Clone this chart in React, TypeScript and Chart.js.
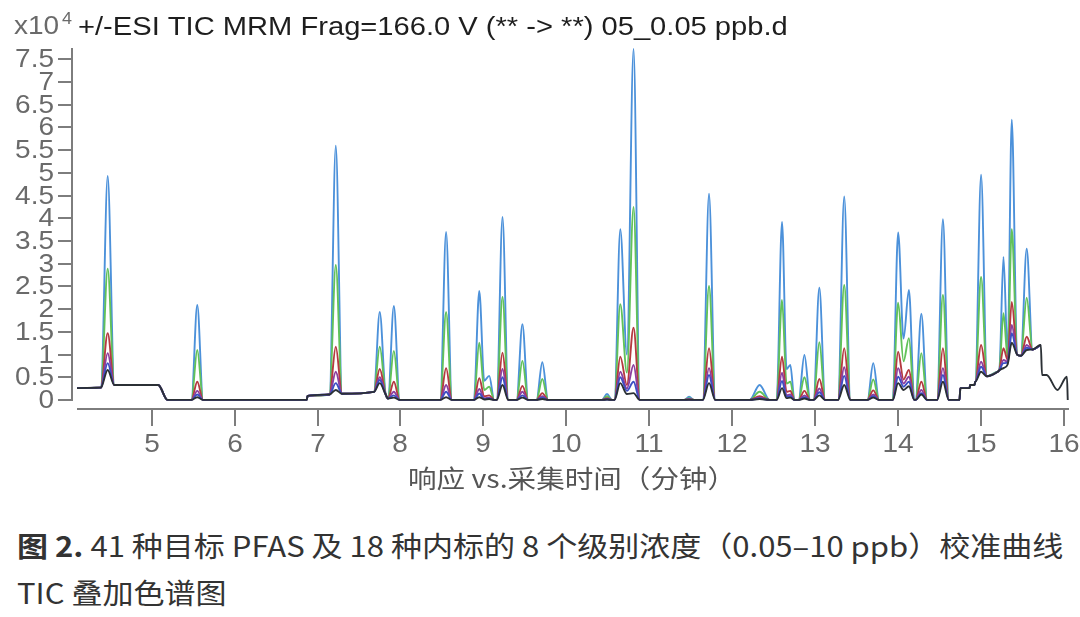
import React, { useEffect, useRef } from "react";
import { Chart, registerables } from "chart.js";

Chart.register(...registerables);

// Retention times (min) of the resolved peaks
const RT = [4.47, 5.55, 7.22, 7.75, 7.92, 8.55, 8.95, 9.07, 9.23, 9.47, 9.71, 10.49, 10.65, 10.81, 11.48, 11.72, 12.33, 12.6, 12.7, 12.87, 13.05, 13.35, 13.7, 14.0, 14.13, 14.28, 14.54, 15.0, 15.27, 15.37, 15.55];
// Half base width of each peak (min)
const HALF_W = [0.08, 0.07, 0.075, 0.07, 0.07, 0.07, 0.065, 0.06, 0.07, 0.07, 0.07, 0.06, 0.07, 0.075, 0.06, 0.075, 0.12, 0.065, 0.05, 0.07, 0.07, 0.075, 0.07, 0.065, 0.065, 0.07, 0.07, 0.07, 0.05, 0.065, 0.07];

// Apex responses (x10^4 counts) per calibration level
const L10_APEX = [4.93, 2.09, 5.6, 1.94, 2.07, 3.7, 2.4, 0.53, 4.03, 1.67, 0.83, 0.13, 3.76, 7.73, 0.07, 4.54, 0.33, 3.92, 0.77, 0.99, 2.47, 4.48, 0.81, 3.69, 2.42, 1.9, 3.98, 4.96, 3.15, 6.17, 3.33];
const L5_APEX = [2.89, 1.1, 2.97, 1.17, 1.08, 1.94, 1.26, 0.29, 2.27, 0.86, 0.46, 0.08, 2.11, 4.25, 0.04, 2.51, 0.18, 2.2, 0.4, 0.5, 1.27, 2.53, 0.45, 2.14, 1.36, 1.03, 2.31, 2.71, 1.91, 3.76, 2.25];
const L2_APEX = [1.47, 0.4, 1.17, 0.68, 0.4, 0.7, 0.48, 0.1, 1.04, 0.31, 0.15, 0.04, 0.95, 1.59, 0.02, 1.14, 0.08, 0.95, 0.2, 0.2, 0.46, 1.14, 0.21, 1.06, 0.66, 0.4, 1.14, 1.21, 1.14, 2.16, 1.39];
const L1_APEX = [1.03, 0.2, 0.62, 0.5, 0.18, 0.33, 0.24, 0.05, 0.68, 0.18, 0.08, 0.02, 0.62, 0.77, 0.01, 0.7, 0.05, 0.6, 0.12, 0.1, 0.25, 0.72, 0.12, 0.7, 0.51, 0.22, 0.7, 0.84, 0.88, 1.65, 1.21];
const L05_APEX = [0.81, 0.12, 0.37, 0.44, 0.1, 0.18, 0.14, 0.03, 0.5, 0.1, 0.05, 0.01, 0.5, 0.4, 0.01, 0.55, 0.03, 0.42, 0.08, 0.06, 0.17, 0.53, 0.08, 0.51, 0.4, 0.15, 0.55, 0.73, 0.81, 1.47, 1.15];
const L005_APEX = [0.66, 0.06, 0.22, 0.37, 0.05, 0.06, 0.06, 0.02, 0.33, 0.05, 0.02, 0.01, 0.37, 0.15, 0.0, 0.37, 0.02, 0.26, 0.05, 0.03, 0.1, 0.33, 0.05, 0.37, 0.3, 0.12, 0.4, 0.62, 0.7, 1.26, 1.1];

// Valleys between partly co-eluting peaks
const VALLEY_RT = [9.01, 10.73, 12.655, 14.065, 15.32];
const L10_VALLEY = [0.42, 1.0, 0.68, 1.35, 1.0];
const L5_VALLEY = [0.22, 0.6, 0.36, 0.85, 0.93];
const L2_VALLEY = [0.08, 0.33, 0.18, 0.45, 0.88];
const L1_VALLEY = [0.04, 0.25, 0.1, 0.36, 0.84];
const L05_VALLEY = [0.02, 0.2, 0.07, 0.29, 0.82];
const L005_VALLEY = [0.01, 0.13, 0.04, 0.22, 0.78];

// Baseline of the TIC between peaks
const BASE_T = [4.1, 4.38, 4.56, 5.08, 5.19, 6.87, 6.88, 7.72, 7.8, 7.86, 14.74, 14.75, 14.86, 14.87, 14.92, 14.93, 15.07, 15.2, 15.43, 15.5, 15.61, 15.72, 15.735, 15.79, 15.92, 16.035, 16.045];
const BASE_V = [0.26, 0.27, 0.33, 0.33, 0.0, 0.0, 0.09, 0.18, 0.19, 0.0, 0.0, 0.26, 0.26, 0.33, 0.33, 0.4, 0.52, 0.62, 1.0, 0.96, 1.1, 1.21, 0.55, 0.55, 0.22, 0.51, 0.0];

const X_TICKS = [5, 6, 7, 8, 9, 10, 11, 12, 13, 14, 15, 16];
const Y_TICKS = [0, 0.5, 1, 1.5, 2, 2.5, 3, 3.5, 4, 4.5, 5, 5.5, 6, 6.5, 7, 7.5];
const Y_TICK_LABELS = ["0", "0.5", "1", "1.5", "2", "2.5", "3", "3.5", "4", "4.5", "5", "5.5", "6", "6.5", "7", "7.5"];

const TITLE = "+/-ESI TIC MRM Frag=166.0 V (** -> **) 05_0.05 ppb.d";
const X_TITLE = "响应 vs.采集时间（分钟）";

const LEVELS = [
  { label: "0.05 ppb", apex: L005_APEX, valley: L005_VALLEY, color: "#2b3035", full: true },
  { label: "0.5 ppb", apex: L05_APEX, valley: L05_VALLEY, color: "#3c4fc4", full: false },
  { label: "1 ppb", apex: L1_APEX, valley: L1_VALLEY, color: "#8d3f9f", full: false },
  { label: "2 ppb", apex: L2_APEX, valley: L2_VALLEY, color: "#b53a40", full: false },
  { label: "5 ppb", apex: L5_APEX, valley: L5_VALLEY, color: "#62c25a", full: false },
  { label: "10 ppb", apex: L10_APEX, valley: L10_VALLEY, color: "#4c91da", full: false },
];

function baseAt(t: number): number {
  for (let i = 0; i < BASE_T.length - 1; i++) {
    if (t >= BASE_T[i] && t <= BASE_T[i + 1]) {
      const f = (t - BASE_T[i]) / (BASE_T[i + 1] - BASE_T[i]);
      return BASE_V[i] + f * (BASE_V[i + 1] - BASE_V[i]);
    }
  }
  return 0;
}

function buildTrace(apex: number[], valley: number[], full: boolean) {
  const pts: { x: number; y: number }[] = [];
  const end = full ? 99 : 15.72;
  // valley j sits between peaks pairL[j] and pairL[j]+1
  const pairL = VALLEY_RT.map((v) => RT.filter((r) => r < v).length - 1);
  const covered = (t: number) => {
    for (let i = 0; i < RT.length; i++) if (Math.abs(t - RT[i]) <= HALF_W[i]) return true;
    for (const l of pairL) if (t > RT[l] && t < RT[l + 1]) return true;
    return false;
  };
  BASE_T.forEach((t, i) => {
    if (t <= end && !covered(t)) pts.push({ x: t, y: BASE_V[i] });
  });
  RT.forEach((t, i) => {
    pts.push({ x: t, y: apex[i] });
    if (!pairL.includes(i - 1)) pts.push({ x: t - HALF_W[i], y: baseAt(t - HALF_W[i]) });
    if (!pairL.includes(i)) pts.push({ x: t + HALF_W[i], y: baseAt(t + HALF_W[i]) });
  });
  VALLEY_RT.forEach((t, j) => pts.push({ x: t, y: valley[j] }));
  pts.sort((a, b) => a.x - b.x);
  return pts;
}

const AXIS_COLOR = "#7d7d7d";
const LABEL_COLOR = "#6a6a6a";
const TEXT_STRETCH = 1.12;

function stretchedText(ctx: CanvasRenderingContext2D, text: string, x: number, y: number) {
  ctx.save();
  ctx.translate(x, y);
  ctx.scale(TEXT_STRETCH, 1);
  ctx.fillText(text, 0, 0);
  ctx.restore();
}

const axesPlugin = {
  id: "tic-axes",
  afterDraw(chart: any) {
    const { ctx, chartArea, scales } = chart;
    const xs = scales.x;
    const ys = scales.y;
    ctx.save();
    ctx.strokeStyle = AXIS_COLOR;
    ctx.lineWidth = 2;
    // y axis
    const yAxisX = chartArea.left - 5;
    ctx.beginPath();
    ctx.moveTo(yAxisX, chartArea.top);
    ctx.lineTo(yAxisX, ys.getPixelForValue(0) + 1);
    ctx.stroke();
    ctx.font = '25px "Liberation Sans", Arial, sans-serif';
    ctx.fillStyle = LABEL_COLOR;
    ctx.textAlign = "right";
    ctx.textBaseline = "middle";
    Y_TICKS.forEach((v, i) => {
      const py = Math.round(ys.getPixelForValue(v));
      ctx.beginPath();
      ctx.moveTo(yAxisX - 14, py);
      ctx.lineTo(yAxisX, py);
      ctx.stroke();
      stretchedText(ctx, Y_TICK_LABELS[i], yAxisX - 18, py + 1);
    });
    // x axis
    const xAxisY = chartArea.bottom;
    ctx.beginPath();
    ctx.moveTo(chartArea.left, xAxisY);
    ctx.lineTo(chartArea.right, xAxisY);
    ctx.stroke();
    ctx.textAlign = "center";
    ctx.textBaseline = "middle";
    X_TICKS.forEach((v) => {
      const px = Math.round(xs.getPixelForValue(v));
      ctx.beginPath();
      ctx.moveTo(px, xAxisY);
      ctx.lineTo(px, xAxisY + 17);
      ctx.stroke();
      stretchedText(ctx, String(v), px, xAxisY + 36);
    });
    ctx.font = '25.5px "Noto Sans CJK SC", sans-serif';
    ctx.fillStyle = "#555555";
    stretchedText(ctx, X_TITLE, 572, xAxisY + 69);
    // scale factor and trace title
    ctx.textAlign = "left";
    ctx.textBaseline = "alphabetic";
    ctx.fillStyle = LABEL_COLOR;
    ctx.font = '25px "Liberation Sans", Arial, sans-serif';
    stretchedText(ctx, "x10", 14, 34);
    ctx.font = '16px "Liberation Sans", Arial, sans-serif';
    stretchedText(ctx, "4", 62, 24);
    ctx.fillStyle = "#1e1e1e";
    ctx.font = '26px "Liberation Sans", Arial, sans-serif';
    stretchedText(ctx, TITLE, 78, 35);
    ctx.restore();
  },
};

export default function App() {
  const ref = useRef<HTMLCanvasElement | null>(null);
  useEffect(() => {
    if (!ref.current) return;
    const chart = new Chart(ref.current, {
      type: "line",
      data: {
        datasets: LEVELS.map((l) => ({
          label: l.label,
          data: buildTrace(l.apex, l.valley, l.full),
          borderColor: l.color,
          borderWidth: 1.9,
          pointRadius: 0,
          fill: false,
          cubicInterpolationMode: "monotone" as const,
        })),
      },
      options: {
        animation: false,
        responsive: false,
        devicePixelRatio: 1,
        parsing: false,
        normalized: true,
        layout: { padding: { left: 77, top: 48, right: 11, bottom: 91 } },
        scales: {
          x: { type: "linear", min: 4.1, max: 16.06, display: false },
          y: { type: "linear", min: -0.2, max: 7.75, display: false },
        },
        plugins: { legend: { display: false }, tooltip: { enabled: false } },
        events: [],
      },
      plugins: [axesPlugin],
    });
    return () => chart.destroy();
  }, []);

  return (
    <div style={{ position: "absolute", left: 0, top: 0, width: 1080, height: 617, background: "#fff" }}>
      <canvas ref={ref} width={1080} height={500} style={{ display: "block", width: 1080, height: 500 }} />
      <div
        style={{
          position: "absolute",
          left: 17,
          top: 522,
          fontFamily: '"Noto Sans CJK SC", sans-serif',
          fontSize: 28,
          lineHeight: "47px",
          color: "#333333",
          whiteSpace: "nowrap",
          transform: "scaleX(1.108)",
          transformOrigin: "left top",
        }}
      >
        <div>
          <b>图 2.</b> 41 种目标 PFAS 及 18 种内标的 8 个级别浓度（0.05–10 ppb）校准曲线
        </div>
        <div>TIC 叠加色谱图</div>
      </div>
    </div>
  );
}
